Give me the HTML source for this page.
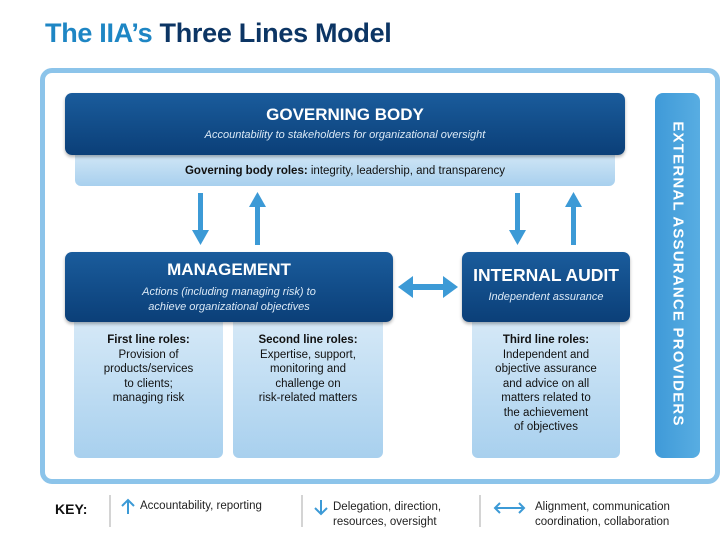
<!DOCTYPE html>
<html><head><meta charset="utf-8"><style>
body{margin:0;width:720px;height:537px;background:#fff;font-family:"Liberation Sans",sans-serif;position:relative;overflow:hidden}
.a{position:absolute;box-sizing:border-box}
.dark{background:linear-gradient(#1a5c9c,#0b3f78);border-radius:7px;color:#fff;text-align:center;box-shadow:0 2px 3px rgba(0,0,0,.3)}
.light{background:linear-gradient(#d6e9f7,#a8d0ee);border-radius:0 0 6px 6px;text-align:center;color:#111;font-size:11.5px;line-height:14.5px}
.h{font-weight:bold;font-size:17px}
.i{font-style:italic;font-size:11px;color:#dbe9f6}
</style></head><body>
<div class="a" style="left:45px;top:18px;font-size:27px;font-weight:bold;letter-spacing:-0.3px"><span style="color:#1e86c4">The IIA’s</span> <span style="color:#0c3564">Three Lines Model</span></div>
<div class="a" style="left:40px;top:68px;width:680px;height:416px;border:5px solid #8cc4ea;border-radius:12px"></div>

<div class="a light" style="left:75px;top:150px;width:540px;height:36px;padding-top:14px;border-radius:0 0 6px 6px"><b>Governing body roles:</b> integrity, leadership, and transparency</div>
<div class="a dark" style="left:65px;top:93px;width:560px;height:62px;padding-top:12px"><div class="h">GOVERNING BODY</div><div class="i" style="margin-top:4px">Accountability to stakeholders for organizational oversight</div></div>

<div class="a light" style="left:74px;top:318px;width:149px;height:140px;padding-top:15px"><b>First line roles:</b><br>Provision of<br>products/services<br>to clients;<br>managing risk</div>
<div class="a light" style="left:233px;top:318px;width:150px;height:140px;padding-top:15px"><b>Second line roles:</b><br>Expertise, support,<br>monitoring and<br>challenge on<br>risk-related matters</div>
<div class="a dark" style="left:65px;top:252px;width:328px;height:70px;padding-top:8px"><div class="h">MANAGEMENT</div><div class="i" style="margin-top:5px;line-height:15px">Actions (including managing risk) to<br>achieve organizational objectives</div></div>

<div class="a light" style="left:472px;top:318px;width:148px;height:140px;padding-top:15px"><b>Third line roles:</b><br>Independent and<br>objective assurance<br>and advice on all<br>matters related to<br>the achievement<br>of objectives</div>
<div class="a dark" style="left:462px;top:252px;width:168px;height:70px;padding-top:13px"><div class="h" style="font-size:17.5px">INTERNAL AUDIT</div><div class="i" style="margin-top:5px">Independent assurance</div></div>

<div class="a" style="left:655px;top:93px;width:45px;height:365px;background:linear-gradient(90deg,#3f9ad8,#58ade2);border-radius:8px"></div>
<div class="a" style="left:678px;top:274px;width:0;height:0"><div style="position:absolute;transform:translate(-50%,-50%) rotate(90deg);white-space:nowrap;color:#fff;font-weight:bold;font-size:15px;letter-spacing:1.2px">EXTERNAL ASSURANCE PROVIDERS</div></div>

<svg class="a" style="left:0;top:0" width="720" height="537">
<g fill="#3c9ad6">
<rect x="198" y="193" width="5" height="40"/><polygon points="192,230 209,230 200.5,245"/>
<rect x="255" y="203" width="5" height="42"/><polygon points="249,207 266,207 257.5,192"/>
<rect x="515" y="193" width="5" height="40"/><polygon points="509,230 526,230 517.5,245"/>
<rect x="571" y="203" width="5" height="42"/><polygon points="565,207 582,207 573.5,192"/>
<rect x="410" y="284" width="36" height="6"/><polygon points="413,276 413,298 398,287"/><polygon points="443,276 443,298 458,287"/>
</g>
<g stroke="#3c9ad6" stroke-width="2" fill="none">
<path d="M128 514 V500 M122 506 L128 500 L134 506"/>
<path d="M321 500 V514 M315 508 L321 514 L327 508"/>
<path d="M495 508 H524 M500 503 L495 508 L500 513 M519 503 L524 508 L519 513"/>
</g>
<g stroke="#aaa" stroke-width="1"><line x1="110" y1="495" x2="110" y2="527"/><line x1="302" y1="495" x2="302" y2="527"/><line x1="480" y1="495" x2="480" y2="527"/></g>
</svg>
<div class="a" style="left:55px;top:501px;font-weight:bold;font-size:14px;color:#111">KEY:</div>
<div class="a" style="left:140px;top:500px;font-size:11.5px;color:#222">Accountability, reporting</div>
<div class="a" style="left:333px;top:500px;font-size:11.5px;line-height:15px;color:#222">Delegation, direction,<br>resources, oversight</div>
<div class="a" style="left:535px;top:500px;font-size:11.5px;line-height:15px;color:#222">Alignment, communication<br>coordination, collaboration</div>
</body></html>
